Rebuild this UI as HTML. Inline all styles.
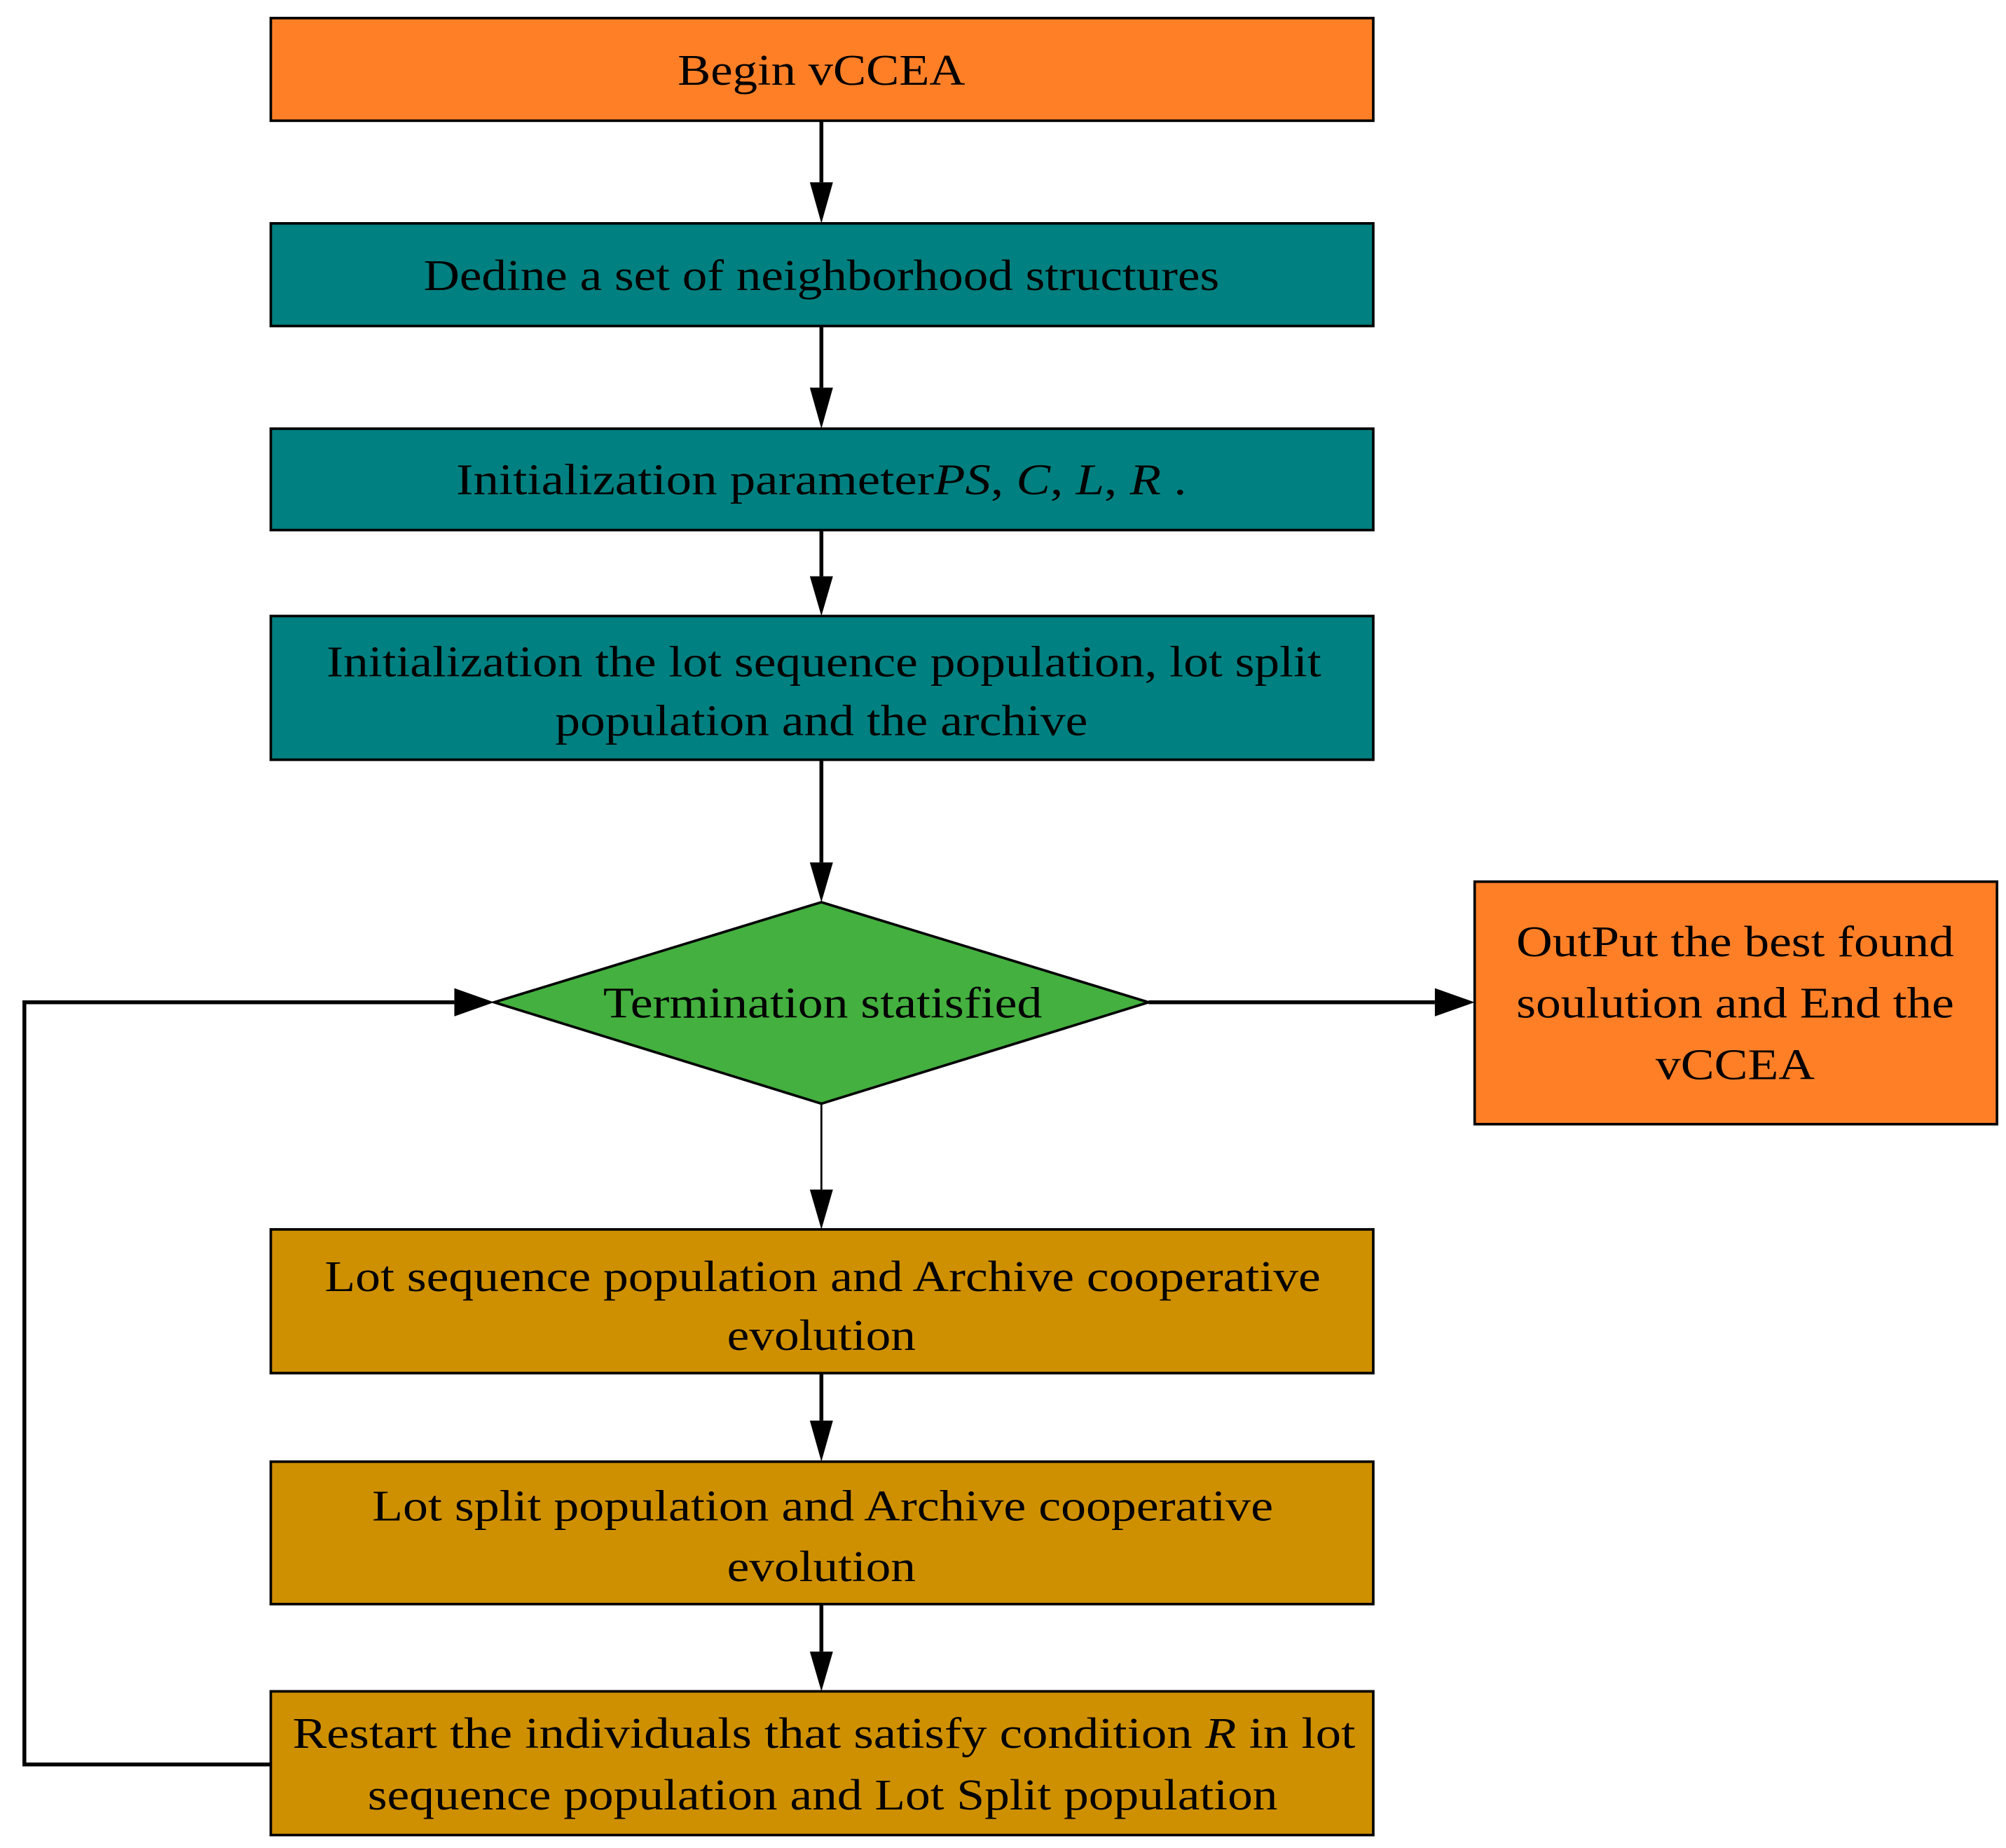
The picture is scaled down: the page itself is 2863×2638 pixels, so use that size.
<!DOCTYPE html>
<html><head><meta charset="utf-8"><style>html,body{margin:0;padding:0;background:#fff}svg{display:block}</style></head>
<body>
<svg width="2863" height="2638" viewBox="0 0 1563 1440" xmlns="http://www.w3.org/2000/svg" font-family="'Liberation Serif', serif" font-size="34" text-anchor="middle">
<defs>
<marker id="ah" markerWidth="10" markerHeight="10" refX="10" refY="5" orient="auto" markerUnits="userSpaceOnUse" viewBox="0 0 10 10"><path d="M0,0 L10,5 L0,10 z" fill="#000"/></marker>
</defs>
<g stroke="#000" stroke-width="2">
<rect x="211" y="14" width="859" height="80" fill="#FF7F27"/>
<rect x="211" y="174" width="859" height="80" fill="#008080"/>
<rect x="211" y="334" width="859" height="79" fill="#008080"/>
<rect x="211" y="480" width="859" height="112" fill="#008080"/>
<polygon points="640,703 895,781 640,860 385,781" fill="#44B03F"/>
<rect x="1149" y="687" width="407" height="189" fill="#FF7F27"/>
<rect x="211" y="958" width="859" height="112" fill="#CF9000"/>
<rect x="211" y="1139" width="859" height="111" fill="#CF9000"/>
<rect x="211" y="1318" width="859" height="112" fill="#CF9000"/>
</g>
<g stroke="#000" stroke-width="3" fill="none">
<line x1="640" y1="94" x2="640" y2="142"/>
<line x1="640" y1="254" x2="640" y2="302"/>
<line x1="640" y1="413" x2="640" y2="449"/>
<line x1="640" y1="592" x2="640" y2="672"/>
<line x1="895" y1="781" x2="1118" y2="781"/>
<line x1="640" y1="1070" x2="640" y2="1107"/>
<line x1="640" y1="1250" x2="640" y2="1287"/>
<polyline points="211,1375 19,1375 19,781 354,781"/>
</g>
<line x1="640" y1="860" x2="640" y2="927" stroke="#000" stroke-width="1.5"/>
<g fill="#000">
<polygon points="631,142 649,142 640,174"/>
<polygon points="631,302 649,302 640,334"/>
<polygon points="631,449 649,449 640,480"/>
<polygon points="631,672 649,672 640,703"/>
<polygon points="631,927 649,927 640,958"/>
<polygon points="631,1107 649,1107 640,1139"/>
<polygon points="631,1287 649,1287 640,1318"/>
<polygon points="1118,770 1118,792 1149,781"/>
<polygon points="354,770 354,792 385,781"/>
</g>
<g fill="#000" lengthAdjust="spacingAndGlyphs">
<text x="640" y="66" textLength="224" lengthAdjust="spacingAndGlyphs">Begin vCCEA</text>
<text x="640" y="226" textLength="620" lengthAdjust="spacingAndGlyphs">Dedine a set of neighborhood structures</text>
<text x="640" y="385" textLength="569" lengthAdjust="spacingAndGlyphs">Initialization parameter<tspan font-style="italic">PS</tspan>, <tspan font-style="italic">C</tspan>, <tspan font-style="italic">L</tspan>, <tspan font-style="italic">R</tspan> .</text>
<text x="642" y="527" textLength="775" lengthAdjust="spacingAndGlyphs">Initialization the lot sequence population, lot split</text>
<text x="640" y="573" textLength="415" lengthAdjust="spacingAndGlyphs">population and the archive</text>
<text x="641" y="793" textLength="342" lengthAdjust="spacingAndGlyphs">Termination statisfied</text>
<text x="1352" y="745" textLength="341" lengthAdjust="spacingAndGlyphs">OutPut the best found</text>
<text x="1352" y="793" textLength="341" lengthAdjust="spacingAndGlyphs">soulution and End the</text>
<text x="1352" y="841" textLength="124" lengthAdjust="spacingAndGlyphs">vCCEA</text>
<text x="641" y="1006" textLength="776" lengthAdjust="spacingAndGlyphs">Lot sequence population and Archive cooperative</text>
<text x="640" y="1052" textLength="147" lengthAdjust="spacingAndGlyphs">evolution</text>
<text x="641" y="1185" textLength="702" lengthAdjust="spacingAndGlyphs">Lot split population and Archive cooperative</text>
<text x="640" y="1232" textLength="147" lengthAdjust="spacingAndGlyphs">evolution</text>
<text x="642" y="1362" textLength="828" lengthAdjust="spacingAndGlyphs">Restart the individuals that satisfy condition <tspan font-style="italic">R</tspan>  in lot</text>
<text x="641" y="1410" textLength="709" lengthAdjust="spacingAndGlyphs">sequence population and Lot Split population</text>
</g>
</svg>
</body></html>
